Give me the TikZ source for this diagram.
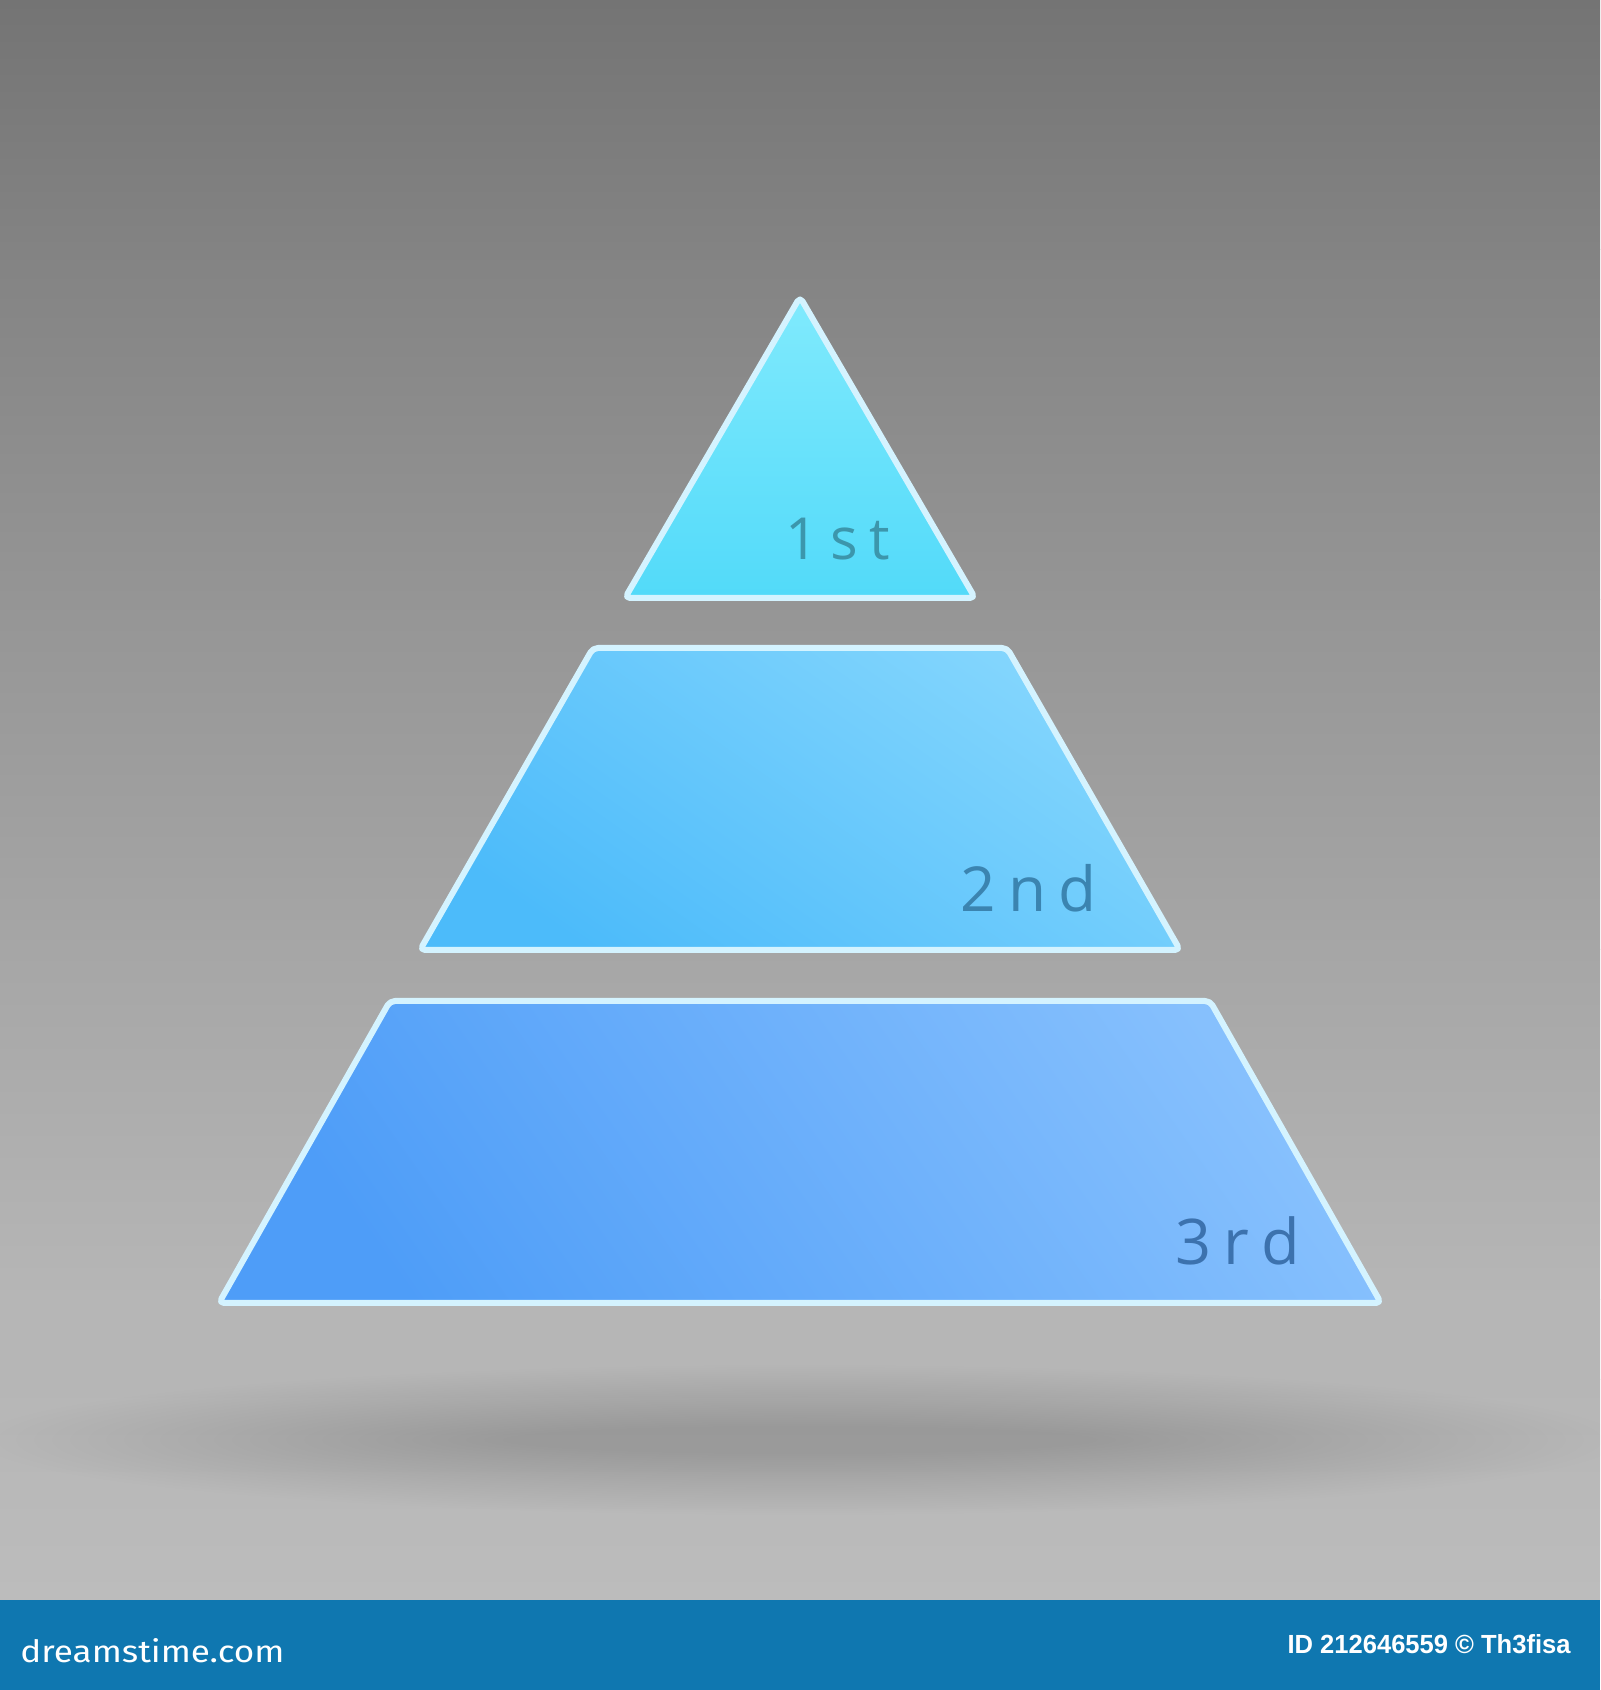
\documentclass[tikz,border=0pt]{standalone}
\usepackage{fontspec}
\usepackage{graphicx}
\newfontfamily\lblfont[LetterSpace=20]{Open Sans}
\newfontfamily\barfont[Scale=1]{Fira Sans}
\newfontfamily\idfont{Liberation Sans}
\definecolor{g0}{HTML}{747474}
\definecolor{g1}{HTML}{838383}
\definecolor{g2}{HTML}{959595}
\definecolor{g3}{HTML}{A6A6A6}
\definecolor{g4}{HTML}{B6B6B6}
\definecolor{g5}{HTML}{B6B6B6}
\definecolor{g6}{HTML}{BCBCBC}
\definecolor{barblue}{HTML}{0F77B0}
\definecolor{edge}{HTML}{D4F3FF}
\definecolor{t1top}{HTML}{80EAFD}
\definecolor{t1bot}{HTML}{52DAF9}
\definecolor{t2top}{HTML}{84D6FD}
\definecolor{t2bot}{HTML}{4CBBFA}
\definecolor{t3top}{HTML}{86C0FD}
\definecolor{t3bot}{HTML}{4E9DF8}
\definecolor{l1}{HTML}{3C96AC}
\definecolor{l2}{HTML}{3B84B0}
\definecolor{l3}{HTML}{3C72AE}
\tikzset{
  tier/.style={draw=edge, line width=3pt, rounded corners=2.5pt, line join=round},
  lbl/.style={anchor=base west, inner sep=0pt, font=\lblfont},
}
\begin{document}
\begin{tikzpicture}[x=0.5pt,y=0.5pt]
\useasboundingbox (0,0) rectangle (1600,1690);
% background
\shade[top color=g0, bottom color=g1] (0,1440) rectangle (1600,1690);
\shade[top color=g1, bottom color=g2] (0,1090) rectangle (1600,1440.5);
\shade[top color=g2, bottom color=g3] (0,740) rectangle (1600,1090.5);
\shade[top color=g3, bottom color=g4] (0,390) rectangle (1600,740.5);
\shade[top color=g4, bottom color=g5] (0,310) rectangle (1600,390.5);
\shade[top color=g5, bottom color=g6] (0,90) rectangle (1600,310.5);
% soft shadow under the pyramid
\foreach \i in {0,...,29}{
  \fill[black, opacity=0.0045] (800,250) ellipse ({820-18*\i} and {75-2.1*\i});
}
% tiers
\coordinate (a1) at (800,1393);
\coordinate (b1) at (625,1092);
\coordinate (c1) at (975,1092);
\shadedraw[tier, top color=t1top, bottom color=t1bot] (a1) -- (c1) -- (b1) -- cycle;
\coordinate (a2) at (593,1042);
\coordinate (b2) at (1007,1042);
\coordinate (c2) at (1180,740);
\coordinate (d2) at (420,740);
\shadedraw[tier, top color=t2top, bottom color=t2bot, shading angle=-35] (a2) -- (b2) -- (c2) -- (d2) -- cycle;
\coordinate (a3) at (390,689);
\coordinate (b3) at (1210,689);
\coordinate (c3) at (1381,387);
\coordinate (d3) at (219,387);
\shadedraw[tier, top color=t3top, bottom color=t3bot, shading angle=-55] (a3) -- (b3) -- (c3) -- (d3) -- cycle;
% labels
\node[lbl, text=l1, font=\lblfont\fontsize{29}{30}\selectfont] (n1) at (785,1130) {1st};
\node[lbl, text=l2, font=\lblfont\fontsize{31}{33}\selectfont] (n2) at (960,778) {2nd};
\node[lbl, text=l3, font=\lblfont\fontsize{31.5}{33}\selectfont] (n3) at (1175,425) {3rd};
% bottom bar
\fill[barblue] (0,0) rectangle (1600,90);
\node[anchor=base west, inner sep=0pt, text=white] (brand) at (20,27)
  {\resizebox{132pt}{12pt}{\barfont dreamstime.com}};
\node[anchor=base east, inner sep=0pt, text=white] (imgid) at (1571,36)
  {\resizebox{141.5pt}{9.5pt}{\idfont\bfseries ID 212646559 © Th3fisa}};
\end{tikzpicture}
\end{document}
